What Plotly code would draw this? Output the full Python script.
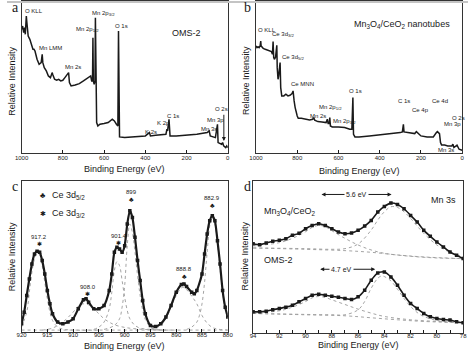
import plotly.graph_objects as go

W, H = 474, 360
def PX(x): return x / W
def PY(y): return 1 - y / H

# ---------------- Panel a: OMS-2 survey ----------------
a_energy = [1000, 995, 990, 985, 982, 979, 977, 975, 972, 968, 960, 950, 945, 940, 935, 925, 915, 905,
            900, 897, 890, 880, 870, 860, 852, 848, 840, 830, 820, 810, 800, 790, 780, 772, 768, 760,
            740, 720, 700, 680, 665, 660, 656, 654, 652, 648, 644, 642, 640, 636, 630, 620, 600, 580,
            560, 550, 540, 533, 530, 528, 525, 500, 450, 400, 380, 375, 350, 300, 295, 292, 285, 283,
            280, 250, 200, 150, 100, 90, 85, 60, 50, 47, 30, 25, 20, 10, 5, 0]
a_counts = [370, 380, 360, 375, 355, 395, 410, 395, 360, 350, 340, 320, 310, 310, 305, 280, 265, 270,
            295, 270, 255, 245, 230, 225, 240, 233, 220, 217, 220, 215, 217, 225, 233, 240, 210, 200,
            203, 207, 215, 223, 230, 215, 215, 345, 215, 205, 215, 405, 195, 90, 80, 85, 87, 90,
            100, 95, 85, 80, 365, 55, 47, 45, 47, 50, 60, 50, 52, 55, 70, 65, 100, 60,
            50, 50, 52, 55, 60, 65, 50, 45, 85, 30, 25, 30, 20, 15, 20, 15]

# ---------------- Panel b: Mn3O4/CeO2 survey ----------------
b_energy = [1000, 995, 990, 985, 980, 977, 975, 965, 955, 945, 935, 925, 920, 917, 914, 910, 905, 901,
            899, 897, 893, 890, 886, 883, 880, 875, 865, 855, 845, 835, 825, 820, 815, 810, 800, 795,
            780, 760, 740, 725, 720, 715, 700, 680, 660, 654, 650, 645, 642, 639, 630, 600, 570, 545,
            535, 530, 527, 520, 500, 450, 400, 350, 300, 290, 285, 282, 260, 230, 222, 210, 200, 170,
            140, 125, 120, 110, 105, 100, 85, 70, 50, 45, 40, 25, 15, 0]
b_counts = [320, 315, 317, 315, 320, 335, 320, 313, 310, 307, 305, 303, 295, 333, 285, 280, 287, 315,
            322, 255, 220, 230, 260, 270, 195, 170, 170, 175, 170, 172, 177, 185, 155, 135, 110, 103,
            103, 100, 98, 100, 105, 97, 93, 92, 90, 100, 87, 87, 105, 80, 77, 77, 75, 70,
            70, 165, 55, 47, 47, 50, 53, 57, 60, 62, 85, 62, 60, 57, 63, 55, 50, 47,
            47, 60, 63, 57, 30, 23, 23, 20, 20, 25, 15, 22, 10, 7]

# ---------------- Panel c: Ce 3d ----------------
c_energy = [920, 919.5, 919, 918.5, 918, 917.5, 917, 916.5, 916, 915.5, 915, 914.5, 914, 913, 912, 911,
            910, 909, 908, 907.5, 907, 906, 905, 904, 903, 902.5, 902, 901.5, 901, 900.5, 900, 899.5,
            899, 898.5, 898, 897.5, 897, 896.5, 896, 895, 894, 893, 892, 891, 890, 889, 888.5, 888,
            887, 886.5, 886, 885, 884.5, 884, 883.5, 883, 882.5, 882, 881.5, 881, 880.5, 880]
c_counts = [25, 60, 110, 160, 205, 235, 243, 240, 215, 175, 125, 85, 55, 30, 25, 30,
            40, 70, 97, 100, 90, 70, 70, 80, 125, 175, 240, 255, 250, 240, 260, 325,
            365, 345, 285, 215, 155, 95, 55, 20, 17, 25, 45, 80, 120, 143, 145, 137,
            120, 115, 125, 175, 235, 295, 335, 350, 335, 275, 205, 125, 75, 45]

c_fit_9172_e = [920, 919, 918.5, 918, 917.5, 917, 916.5, 916, 915.5, 915, 914.5, 914, 913, 912, 910, 905]
c_fit_9172_i = [15, 60, 120, 180, 220, 236, 232, 200, 150, 100, 60, 35, 15, 9, 6, 6]
c_fit_9080_e = [916, 914, 912, 910, 909, 908, 907, 906, 905, 904, 903, 902, 900, 898, 895, 890]
c_fit_9080_i = [6, 12, 30, 60, 78, 85, 82, 70, 55, 40, 30, 22, 14, 10, 7, 6]
c_fit_9014_e = [906, 905, 904, 903, 902.5, 902, 901.5, 901, 900.5, 900, 899.5, 899, 898, 897, 895, 892]
c_fit_9014_i = [8, 15, 30, 70, 120, 185, 212, 200, 155, 105, 65, 40, 20, 12, 8, 6]
c_fit_899_e = [904, 902, 901, 900.5, 900, 899.5, 899, 898.5, 898, 897.5, 897, 896.5, 896, 895, 894, 892]
c_fit_899_i = [8, 20, 40, 75, 140, 260, 325, 300, 240, 170, 110, 65, 38, 15, 8, 6]
c_fit_8888_e = [895, 893, 892, 891, 890, 889, 888.5, 888, 887, 886, 885, 884, 883, 882, 880]
c_fit_8888_i = [8, 20, 40, 75, 110, 133, 135, 128, 108, 85, 50, 27, 14, 9, 6]
c_fit_8829_e = [888, 887, 886, 885.5, 885, 884.5, 884, 883.5, 883, 882.5, 882, 881.5, 881, 880.5, 880]
c_fit_8829_i = [8, 15, 30, 50, 85, 150, 240, 320, 345, 325, 265, 190, 120, 70, 42]
c_base_e = [920, 880]
c_base_i = [6, 6]

# ---------------- Panel d: Mn 3s ----------------
d_energy = [94, 93.5, 93, 92.5, 92, 91.5, 91, 90.5, 90, 89.5, 89, 88.5, 88, 87.5, 87, 86.5, 86, 85.5,
            85, 84.5, 84, 83.5, 83, 82.5, 82, 81.5, 81, 80.5, 80, 79.5, 79, 78.5, 78]
d_top = [269, 266, 271, 276, 279, 284, 294, 300, 314, 324, 329, 324, 314, 304, 299, 301, 309, 322,
         339, 364, 381, 391, 387, 374, 354, 334, 309, 291, 274, 259, 244, 234, 224]
d_bottom = [64, 64, 66, 70, 74, 78, 84, 94, 104, 114, 117, 114, 111, 108, 104, 101, 109, 129,
            159, 181, 184, 169, 144, 114, 89, 74, 59, 49, 44, 41, 39, 34, 31]

d_top_bg_e = [94, 90, 87, 85, 83, 81, 78]
d_top_bg_i = [256, 252, 248, 243, 235, 229, 224]
d_top_p1_e = [94, 92, 91, 90, 89.5, 89, 88.5, 88, 87, 86, 85, 84, 82, 80, 78]
d_top_p1_i = [262, 272, 285, 305, 318, 324, 320, 308, 285, 265, 250, 240, 231, 226, 224]
d_top_p2_e = [94, 90, 88, 87, 86, 85, 84.5, 84, 83.5, 83, 82.5, 82, 81.5, 81, 80, 79, 78]
d_top_p2_i = [256, 254, 252, 254, 268, 310, 340, 365, 380, 378, 365, 345, 322, 300, 265, 243, 230]

d_bot_bg_e = [94, 90, 87, 85, 83, 81, 78]
d_bot_bg_i = [59, 55, 52, 46, 40, 35, 31]
d_bot_p1_e = [94, 92, 91, 90, 89.5, 89, 88.5, 88, 87, 86, 85, 84, 82, 80, 78]
d_bot_p1_i = [61, 67, 78, 95, 106, 110, 107, 100, 86, 72, 60, 50, 40, 35, 31]
d_bot_p2_e = [94, 88, 87, 86, 85.5, 85, 84.5, 84.2, 84, 83.5, 83, 82.5, 82, 81.5, 81, 80, 79, 78]
d_bot_p2_i = [59, 55, 55, 70, 95, 135, 165, 172, 170, 157, 132, 104, 80, 62, 50, 38, 33, 31]

# ---------------- figure ----------------
SANS = "Liberation Sans"
SERIF = "Liberation Serif"
INK = "#1a1a1a"
FIT = "#9a9a9a"

fig = go.Figure()

fig.add_trace(go.Scatter(x=a_energy, y=a_counts, mode="lines", line=dict(color=INK, width=1.5),
                         xaxis="x", yaxis="y", showlegend=False))
fig.add_trace(go.Scatter(x=b_energy, y=b_counts, mode="lines", line=dict(color=INK, width=1.5),
                         xaxis="x2", yaxis="y2", showlegend=False))

for e, i in [(c_base_e, c_base_i), (c_fit_9172_e, c_fit_9172_i), (c_fit_9080_e, c_fit_9080_i),
             (c_fit_9014_e, c_fit_9014_i), (c_fit_899_e, c_fit_899_i),
             (c_fit_8888_e, c_fit_8888_i), (c_fit_8829_e, c_fit_8829_i)]:
    fig.add_trace(go.Scatter(x=e, y=i, mode="lines", line=dict(color=FIT, width=0.9, dash="dot", shape="spline"),
                             xaxis="x3", yaxis="y3", showlegend=False))
fig.add_trace(go.Scatter(x=c_energy, y=c_counts, mode="lines+markers",
                         line=dict(color=INK, width=2.2, shape="spline", smoothing=0.6),
                         marker=dict(symbol="square", size=3.5, color=INK),
                         xaxis="x3", yaxis="y3", showlegend=False))

for e, i in [(d_top_bg_e, d_top_bg_i), (d_top_p1_e, d_top_p1_i), (d_top_p2_e, d_top_p2_i),
             (d_bot_bg_e, d_bot_bg_i), (d_bot_p1_e, d_bot_p1_i), (d_bot_p2_e, d_bot_p2_i)]:
    fig.add_trace(go.Scatter(x=e, y=i, mode="lines", line=dict(color=FIT, width=0.9, dash="dot", shape="spline"),
                             xaxis="x4", yaxis="y4", showlegend=False))
for series in (d_top, d_bottom):
    fig.add_trace(go.Scatter(x=d_energy, y=series, mode="lines+markers",
                             line=dict(color=INK, width=1.6, shape="spline", smoothing=0.6),
                             marker=dict(symbol="square", size=3.5, color=INK),
                             xaxis="x4", yaxis="y4", showlegend=False))

def xax(domain, rng, dtick, minor=None, anchor="y", standoff=0):
    d = dict(domain=domain, range=rng, dtick=dtick, tick0=0, ticks="inside", ticklen=3, tickwidth=1,
             tickcolor=INK, showline=True, linecolor="#333", linewidth=1, mirror=True,
             showgrid=False, zeroline=False, anchor=anchor, ticklabelstandoff=standoff,
             tickfont=dict(family=SANS, size=6, color=INK))
    if minor:
        d["minor"] = dict(dtick=minor, ticks="inside", ticklen=3, tickcolor=INK, showgrid=False)
    return d

def yax(domain, rng, anchor):
    return dict(domain=domain, range=rng, showticklabels=False, ticks="", showline=True,
                linecolor="#333", linewidth=1, mirror=True, showgrid=False, zeroline=False, anchor=anchor)

top_dom = [PY(152), 1.0]
fig.update_layout(
    width=W, height=H, margin=dict(l=0, r=0, t=0, b=0),
    paper_bgcolor="white", plot_bgcolor="white",
    xaxis=xax([PX(15), PX(227)], [1000, 0], 200, anchor="y", standoff=-1),
    yaxis=yax(top_dom, [0, 455], "x"),
    xaxis2=xax([PX(256), PX(468)], [1000, 0], 200, anchor="y2", standoff=-1),
    yaxis2=yax(top_dom, [0, 455], "x2"),
    xaxis3=xax([PX(15), PX(227)], [920, 880], 5, minor=2.5, anchor="y3", standoff=-3),
    yaxis3=yax([PY(332), PY(180)], [0, 456], "x3"),
    xaxis4=xax([PX(253), PX(469)], [94, 78], 2, minor=1, anchor="y4", standoff=-3),
    yaxis4=yax([PY(333), PY(180)], [0, 459], "x4"),
)

ann = []
def txt(x, y, s, size=6, anchor="left", family=SANS, color=INK, **kw):
    ann.append(dict(x=PX(x), y=PY(y), xref="paper", yref="paper", text=s, showarrow=False,
                    xanchor=anchor, yanchor="middle", font=dict(family=family, size=size, color=color), **kw))

# panel letters
for x, y, s in [(3, 7, "a"), (242, 7, "b"), (3, 186, "c"), (242, 186, "d")]:
    txt(x, y, s, size=14, family=SERIF)

# axis titles
for x, y in [(121, 168), (362, 170), (121, 346), (361, 345)]:
    txt(x, y, "Binding Energy (eV)", size=9, anchor="center")
for x, y in [(5, 80), (245, 80), (5, 256), (245, 256)]:
    ann.append(dict(x=PX(x), y=PY(y), xref="paper", yref="paper", text="Relative Intensity",
                    showarrow=False, textangle=-90, xanchor="center", yanchor="middle",
                    font=dict(family=SANS, size=9, color=INK)))

# panel a labels
txt(16, 10, "O KLL")
txt(85, 13, "Mn 2p<sub>3/2</sub>")
txt(69, 29, "Mn 2p<sub>1/2</sub>")
txt(109, 25, "O 1s")
txt(168, 32, "OMS-2", size=9)
txt(31, 47, "Mn LMM")
txt(58, 66, "Mn 2s")
txt(140, 131, "K 2s")
txt(152, 122, "K 2p")
txt(162, 115, "C 1s")
txt(197, 128, "Mn 3s")
txt(204, 119, "Mn 3p")
txt(212, 108, "O 2s")
ann.append(dict(x=19, y=35, xref="x", yref="y", ax=19, ay=118, axref="x", ayref="y", text="",
                showarrow=True, arrowhead=2, arrowsize=0.8, arrowwidth=1, arrowcolor=INK))

# panel b labels
txt(355, 24, "Mn<sub>3</sub>O<sub>4</sub>/CeO<sub>2</sub> nanotubes", size=9)
txt(256, 29, "O KLL")
txt(270, 34, "Ce 3d<sub>3/2</sub>")
txt(281, 57, "Ce 3d<sub>5/2</sub>")
txt(290, 83, "Ce MNN")
txt(350, 90, "O 1s")
txt(319, 107, "Mn 2p<sub>1/2</sub>")
txt(309, 115, "Mn 2s")
txt(333, 121, "Mn 2p<sub>3/2</sub>")
txt(400, 100, "C 1s")
txt(414, 109, "Ce 4p")
txt(435, 100, "Ce 4d")
txt(455, 117, "O 2s")
txt(447, 123, "Mn 3p")
txt(441, 149, "Mn 3s")

# panel c legend and peak labels
txt(37, 195, "\u2663", size=8, anchor="center")
txt(44, 195, "Ce 3d<sub>5/2</sub>", size=9)
txt(37, 213, "\u2731", size=7, anchor="center")
txt(44, 213, "Ce 3d<sub>3/2</sub>", size=9)
for x, y, lab, sym in [(33, 237, "917.2", "\u2731"), (83, 287, "908.0", "\u2731"), (115, 236, "901.4", "\u2731"),
                       (128, 192, "899", "\u2663"), (182, 269, "888.8", "\u2663"), (211, 198, "882.9", "\u2663")]:
    txt(x, y, lab, size=6, anchor="center")
    txt(x, y + 7, sym, size=7 if sym == "\u2663" else 6, anchor="center")

# panel d labels
txt(262, 211, "Mn<sub>3</sub>O<sub>4</sub>/CeO<sub>2</sub>", size=9)
txt(434, 200, "Mn 3s", size=9)
txt(262, 260, "OMS-2", size=9)
ann.append(dict(x=83.45, y=417, xref="x4", yref="y4", ax=88.9, ay=417, axref="x4", ayref="y4", text="",
                showarrow=True, arrowhead=2, arrowside="end+start", arrowsize=0.8, arrowwidth=1, arrowcolor=INK))
ann.append(dict(x=84.7, y=192, xref="x4", yref="y4", ax=89.0, ay=192, axref="x4", ayref="y4", text="",
                showarrow=True, arrowhead=2, arrowside="end+start", arrowsize=0.8, arrowwidth=1, arrowcolor=INK))
txt(359, 194, "5.6 eV", size=7, anchor="center", bgcolor="white")
txt(344, 269, "4.7 eV", size=7, anchor="center", bgcolor="white")

fig.update_layout(annotations=ann)

# light grey strip along the top edge
fig.add_shape(type="rect", xref="paper", yref="paper", x0=0, x1=1, y0=PY(2), y1=1,
              fillcolor="#c4c4c4", line=dict(width=0), layer="above")

fig.write_html("out.html", config={"displayModeBar": False},
               post_script="document.body.style.margin='0';document.body.style.padding='0';")
